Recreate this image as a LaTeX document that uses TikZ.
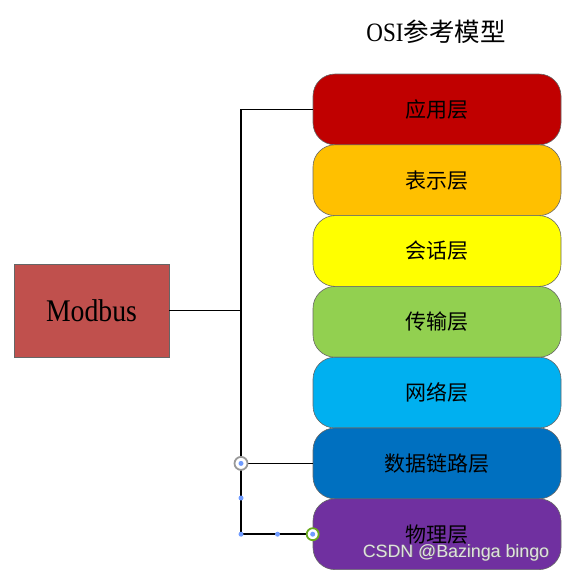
\documentclass[tikz,border=0pt]{standalone}
\usepackage{fontspec}
\setmainfont{Liberation Serif}
\newfontfamily\cjk{Noto Sans CJK SC}
\newfontfamily\wmfont{Liberation Sans}
\definecolor{cApp}{HTML}{C00000}
\definecolor{cPre}{HTML}{FFC000}
\definecolor{cSes}{HTML}{FFFF00}
\definecolor{cTra}{HTML}{92D050}
\definecolor{cNet}{HTML}{00B0F0}
\definecolor{cDat}{HTML}{0070C0}
\definecolor{cPhy}{HTML}{7030A0}
\definecolor{cMod}{HTML}{C0504D}
\definecolor{cHandle}{HTML}{6F9BFF}
\definecolor{cGreen}{HTML}{6AAA1E}
\begin{document}
\begin{tikzpicture}[x=1pt,y=-1pt,
  layer/.style={draw=black!60, line width=0.6pt, rounded corners=22pt,
    minimum width=248pt, minimum height=70.8pt, inner sep=0pt,
    font=\cjk\fontsize{21}{21}\selectfont},
  wire/.style={line width=1.6pt, black},
  handledot/.style={circle, fill=cHandle, inner sep=0pt, minimum size=5pt},
]
\useasboundingbox (0,0) rectangle (566,573);

\node[font=\fontsize{26.5}{26.5}\selectfont, inner sep=0pt] (title) at (436,32)
  {\scalebox{0.87}[1]{OSI}{\cjk\fontsize{25.5}{25.5}\selectfont 参考模型}};

\coordinate (top) at (241,109.4);
\coordinate (bot) at (241,534.2);

\node[layer, fill=cApp] (app) at (437,109.4) {应用层};
\node[layer, fill=cPre] (pre) at (437,180.2) {表示层};
\node[layer, fill=cSes] (ses) at (437,251.0) {会话层};
\node[layer, fill=cTra] (tra) at (437,321.8) {传输层};
\node[layer, fill=cNet] (net) at (437,392.6) {网络层};
\node[layer, fill=cDat] (dat) at (437,463.4) {数据链路层};
\node[layer, fill=cPhy] (phy) at (437,534.2) {物理层};

\node[draw=black!60, line width=0.6pt, fill=cMod, minimum width=155pt, minimum height=93pt,
  inner sep=0pt] (mod) at (91.5,310.5)
  {\fontsize{31.5}{31.5}\selectfont\scalebox{0.88}[1]{Modbus}};

\draw[wire] (app.west) -- (top) -- (bot) -- (phy.west);
\draw[wire] (mod.east) -- (mod.east -| top);
\draw[wire] (dat.west) -- (dat.west -| top);

% selection handles
\coordinate (h1) at (dat.west -| top);
\node[circle, draw=black!40, line width=1.8pt, fill=white, minimum size=13pt, inner sep=0pt] (hc) at (h1) {};
\node[handledot] (hd1) at (h1) {};
\node[handledot] (hd2) at (241,498) {};
\node[handledot] (hd3) at (bot) {};
\node[handledot] (hd4) at (277.5,534.2) {};
\node[circle, draw=cGreen, line width=1.8pt, fill=white, minimum size=12pt, inner sep=0pt] (gc) at (phy.west) {};
\node[handledot] (hd5) at (phy.west) {};

% watermark
\node[font=\wmfont\fontsize{17.8}{17.8}\selectfont, text=black!55, inner sep=0pt] (wms) at (456.8,553.3) {CSDN @Bazinga bingo};
\node[font=\wmfont\fontsize{17.8}{17.8}\selectfont, text=black!12, inner sep=0pt] (wm) at (456,552.5) {CSDN @Bazinga bingo};
\end{tikzpicture}
\end{document}
